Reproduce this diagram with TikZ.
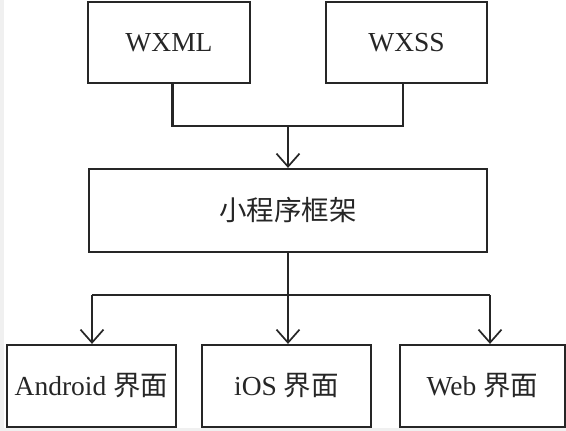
\documentclass[tikz,border=0pt]{standalone}
\usepackage{fontspec}
\setmainfont{Liberation Serif}
\newfontfamily\cjk{Noto Sans CJK SC}
\usetikzlibrary{arrows.meta}
\begin{document}
\begin{tikzpicture}[x=1pt,y=-1pt,
  box/.style={draw=black!85, line width=2.2pt, inner sep=0pt, font=\fontsize{27.5}{32}\selectfont, text=black!85},
  conn/.style={draw=black!85, line width=2.2pt},
  arr/.style={conn, -{Straight Barb[length=13pt,width=23pt,line width=1.7pt]}}]
\useasboundingbox (0,0) rectangle (566,431);
\fill[white] (0,0) rectangle (566,431);
\fill[black!6] (0,0) rectangle (4,431);
\fill[black!6] (0,428) rectangle (566,431);
\node[box, minimum width=162pt, minimum height=81pt] (wxml) at (169,42.5) {WXML};
\node[box, minimum width=161pt, minimum height=81pt] (wxss) at (406.5,42.5) {WXSS};
\node[box, minimum width=398pt, minimum height=83pt] (frame) at (288,210.5) {\cjk 小程序框架};
\node[box, minimum width=169pt, minimum height=82pt] (android) at (91.5,386) {Android {\cjk 界面}};
\node[box, minimum width=169pt, minimum height=82pt] (ios) at (286.5,386) {iOS {\cjk 界面}};
\node[box, minimum width=165pt, minimum height=82pt] (web) at (482.5,386) {Web {\cjk 界面}};
\coordinate (j1) at (288,126);
\coordinate (j2) at (288,295);
\draw[conn] ([xshift=3.5pt]wxml.south) |- (j1) -| ([xshift=-3.5pt]wxss.south);
\draw[arr] (j1) -- (frame.north);
\draw[conn] (frame.south) -- (j2);
\draw[conn] (92,295) -- (490,295);
\draw[arr] (j2 -| 92,0) -- (android.north -| 92,0);
\draw[arr] (j2) -- (ios.north -| j2);
\draw[arr] (j2 -| 490,0) -- (web.north -| 490,0);
\end{tikzpicture}
\end{document}
